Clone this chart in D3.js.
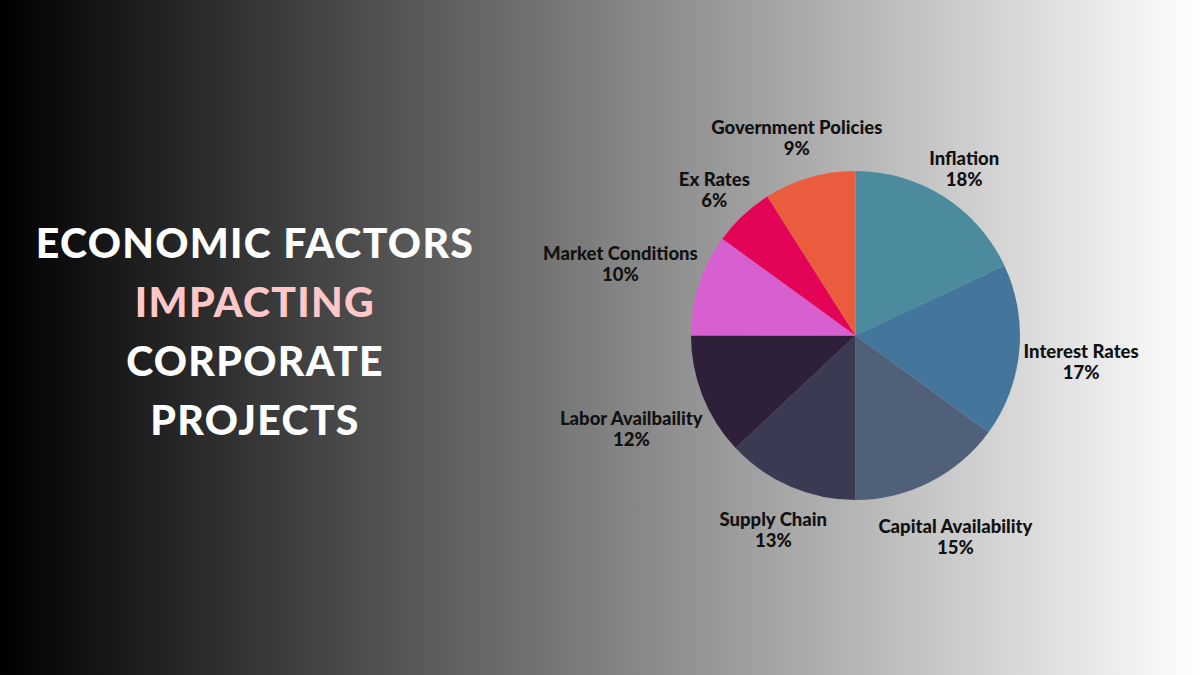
<!DOCTYPE html>
<html>
<head>
<meta charset="utf-8">
<script src="https://cdn.jsdelivr.net/npm/d3@7"></script>
<style>
  html, body { margin: 0; padding: 0; background: #000; }
  svg { display: block; }
</style>
</head>
<body>
<svg id="chart"></svg>
<script>
// data
const categories = ["Inflation", "Interest Rates", "Capital Availability", "Supply Chain",
                    "Labor Availbaility", "Market Conditions", "Ex Rates", "Government Policies"]
const shares = [18, 17, 15, 13, 12, 10, 6, 9]
const sliceColors = ["#4c8b9e", "#43769a", "#516079", "#3a3a52",
                     "#2e2039", "#d85fd0", "#e30357", "#eb5c3f"]
const titleLines = ["ECONOMIC FACTORS", "IMPACTING", "CORPORATE", "PROJECTS"]
const titleColors = ["#ffffff", "#ffc7c7", "#ffffff", "#ffffff"]

const width = 1200, height = 675

const svg = d3.select("#chart")
    .attr("width", width)
    .attr("height", height)

// background gradient black -> white
const defs = svg.append("defs")
const grad = defs.append("linearGradient")
    .attr("id", "bg")
    .attr("x1", "0%").attr("x2", "100%")
    .attr("y1", "0%").attr("y2", "0%")
grad.append("stop").attr("offset", "0%").attr("stop-color", "#000")
grad.append("stop").attr("offset", "100%").attr("stop-color", "#fff")

svg.append("rect")
    .attr("width", width)
    .attr("height", height)
    .attr("fill", "url(#bg)")

// title block
const titleFont = `"Lato", "Open Sans", sans-serif`
svg.append("g")
    .selectAll("text")
    .data(titleLines)
    .enter()
    .append("text")
        .attr("x", 255)
        .attr("y", (d, i) => 258 + i * 59)
        .attr("text-anchor", "middle")
        .attr("fill", (d, i) => titleColors[i])
        .attr("font-family", titleFont)
        .attr("font-weight", 900)
        .attr("font-size", 41)
        .attr("letter-spacing", 1.3)
        .text(d => d)

// pie
const cx = 855.5, cy = 335.5
const radius = 164.5

const pie = d3.pie().sort(null).value(d => d)
const arcs = pie(shares)
const arc = d3.arc().innerRadius(0).outerRadius(radius)

const g = svg.append("g")
    .attr("transform", `translate(${cx}, ${cy})`)

g.selectAll("path")
    .data(arcs)
    .enter()
    .append("path")
        .attr("d", arc)
        .attr("fill", (d, i) => sliceColors[i])

// labels: two lines, pushed out along the slice's middle angle
const labelFont = `"Lato", "Open Sans", sans-serif`
const fontSize = 18.5
const lineGap = 21
const gap = 3

const labels = g.append("g")
    .selectAll("text")
    .data(arcs)
    .enter()
    .append("text")
        .attr("text-anchor", "middle")
        .attr("fill", "#111")
        .attr("font-family", labelFont)
        .attr("font-weight", 900)
        .attr("font-size", fontSize)

labels.append("tspan")
    .attr("class", "name")
    .attr("x", 0)
    .text((d, i) => categories[i])
labels.append("tspan")
    .attr("class", "pct")
    .attr("x", 0)
    .attr("dy", lineGap)
    .text(d => d.value + "%")

labels.each(function(d) {
    const el = d3.select(this)
    const w = el.select(".name").node().getComputedTextLength()
    const h = lineGap + fontSize
    const a = (d.startAngle + d.endAngle) / 2
    const s = Math.sin(a), c = -Math.cos(a)
    const r = radius + gap + Math.abs(s) * w / 2 + Math.abs(c) * h / 2
    const x = s * r
    const y = c * r
    // first baseline sits a bit above the box centre
    el.attr("transform", `translate(${x}, ${y - h / 2 + fontSize * 0.85 + 5})`)
})
</script>
</body>
</html>
